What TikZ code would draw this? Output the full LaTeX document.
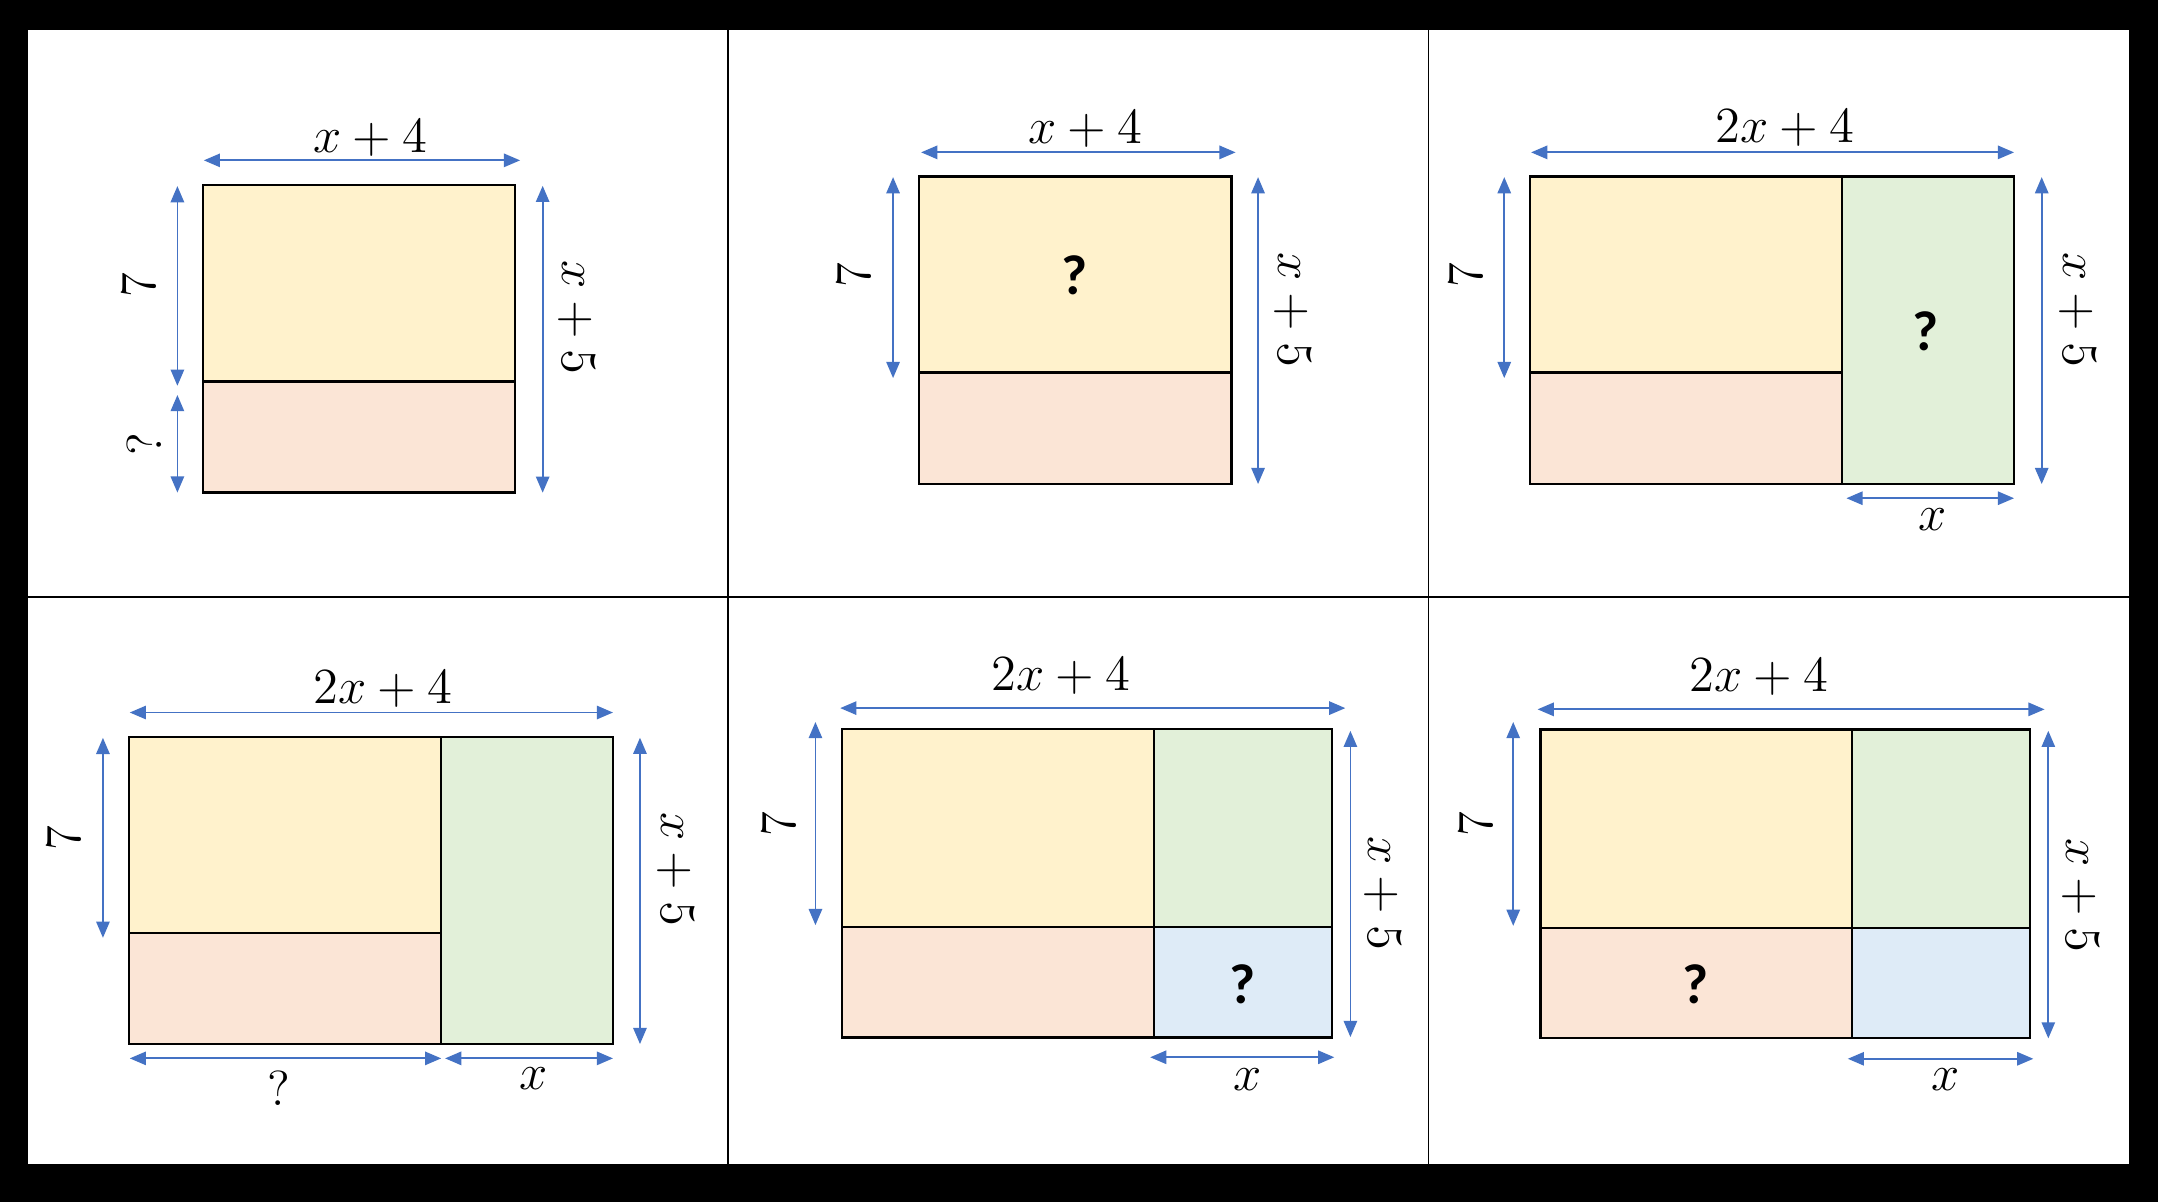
\documentclass[tikz,border=0pt]{standalone}
\usepackage{fontspec}
\newfontfamily\askfont{Carlito}
\usetikzlibrary{arrows.meta}

\definecolor{dimblue}{HTML}{4472C4}
\definecolor{yellowpart}{HTML}{FFF2CC}
\definecolor{pinkpart}{HTML}{FBE5D6}
\definecolor{greenpart}{HTML}{E2F0D9}
\definecolor{bluepart}{HTML}{DEEBF7}

\tikzset{
    dim/.style={dimblue, line width=0.5pt, {Triangle[length=4.6pt,width=3.8pt]}-{Triangle[length=4.6pt,width=3.8pt]}},
    edge/.style={draw=black, line width=0.65pt},
    lbl/.style={inner sep=0pt, font=\fontsize{14}{16}\selectfont},
    ask/.style={inner sep=0pt, font=\askfont\bfseries\fontsize{16}{18}\selectfont},
}

\begin{document}
\begin{tikzpicture}[x=0.0137628cm, y=-0.0137628cm]
            \fill[black] (0, 0) rectangle (1568, 873.4);
            \fill[white] (20.6, 21.7) rectangle (1547.1, 846);
            \draw[line width=0.5pt] (528.7, 21.7) -- (528.7, 846);
            \draw[line width=0.5pt] (1037.9, 21.7) -- (1037.9, 846);
            \draw[line width=0.5pt] (20.6, 433.8) -- (1547.1, 433.8);

            \fill[yellowpart] (147.4, 134.6) rectangle (374.1, 277.2);
            \fill[pinkpart] (147.4, 277.2) rectangle (374.1, 357.9);
            \draw[edge] (147.4, 134.6) rectangle (374.1, 357.9);
            \draw[edge] (147.4, 277.2) -- (374.1, 277.2);
            \draw[dim] (148.1, 116.5) -- (377.9, 116.5);
            \draw[dim] (128.9, 135.2) -- (128.9, 280.3);
            \draw[dim] (128.9, 287) -- (128.9, 357.9);
            \draw[dim] (394.3, 135) -- (394.3, 358);
            \node[lbl] (top1) at (269, 100.1) { $x+4$ };
            \node[lbl, rotate=90] (seven1) at (101.2, 207) { $7$ };
            \node[lbl, rotate=90] (ask1) at (104.6, 322.6) { ? };
            \node[lbl, rotate=-90] (side1) at (419, 230.8) { $x+5$ };

            \fill[yellowpart] (667.6, 128.2) rectangle (894.8, 270.6);
            \fill[pinkpart] (667.6, 270.6) rectangle (894.8, 351.5);
            \draw[edge] (667.6, 128.2) rectangle (894.8, 351.5);
            \draw[edge] (667.6, 270.6) -- (894.8, 270.6);
            \draw[dim] (669.3, 110.7) -- (897.8, 110.7);
            \draw[dim] (648.9, 128.7) -- (648.9, 274.7);
            \draw[dim] (914.1, 128.7) -- (914.1, 351.7);
            \node[lbl] (top2) at (788.4, 93.7) { $x+4$ };
            \node[lbl, rotate=90] (seven2) at (620.5, 200.2) { $7$ };
            \node[lbl, rotate=-90] (side2) at (939.1, 225.2) { $x+5$ };
            \node[ask] (ask2) at (780.4, 200.2) { ? };

            \fill[yellowpart] (1111.8, 128.2) rectangle (1338.5, 270.6);
            \fill[pinkpart] (1111.8, 270.6) rectangle (1338.5, 351.5);
            \fill[greenpart] (1338.5, 128.2) rectangle (1463.4, 351.5);
            \draw[edge] (1111.8, 128.2) rectangle (1463.4, 351.5);
            \draw[edge] (1111.8, 270.6) -- (1338.5, 270.6);
            \draw[edge] (1338.5, 128.2) -- (1338.5, 351.5);
            \draw[dim] (1112.5, 110.7) -- (1463.4, 110.7);
            \draw[dim] (1093, 128.7) -- (1093, 274.7);
            \draw[dim] (1483.5, 128.7) -- (1483.5, 351.7);
            \draw[dim] (1341.6, 362) -- (1463.4, 362);
            \node[lbl] (top3) at (1296.8, 93.2) { $2x+4$ };
            \node[lbl, rotate=90] (seven3) at (1065, 200.2) { $7$ };
            \node[lbl, rotate=-90] (side3) at (1509.5, 225.2) { $x+5$ };
            \node[lbl] (low3) at (1404.5, 377.3) { $x$ };
            \node[ask] (ask3) at (1399.4, 240.5) { ? };

            \fill[yellowpart] (93.6, 535.6) rectangle (320.3, 677.9);
            \fill[pinkpart] (93.6, 677.9) rectangle (320.3, 758.6);
            \fill[greenpart] (320.3, 535.6) rectangle (445.4, 758.6);
            \draw[edge] (93.6, 535.6) rectangle (445.4, 758.6);
            \draw[edge] (93.6, 677.9) -- (320.3, 677.9);
            \draw[edge] (320.3, 535.6) -- (320.3, 758.6);
            \draw[dim] (94.3, 517.7) -- (445.4, 517.7);
            \draw[dim] (74.8, 536.1) -- (74.8, 681.4);
            \draw[dim] (465, 536) -- (465, 758.6);
            \draw[dim] (94.3, 769) -- (320.6, 769);
            \draw[dim] (323.4, 769) -- (445.4, 769);
            \node[lbl] (top4) at (278.4, 500.6) { $2x+4$ };
            \node[lbl, rotate=90] (seven4) at (46.3, 608.7) { $7$ };
            \node[lbl, rotate=-90] (side4) at (491, 631.8) { $x+5$ };
            \node[lbl] (ask4) at (202.3, 790.3) { ? };
            \node[lbl] (low4) at (387.5, 784) { $x$ };

            \fill[yellowpart] (611.9, 529.5) rectangle (838.4, 673.6);
            \fill[pinkpart] (611.9, 673.6) rectangle (838.4, 753.8);
            \fill[greenpart] (838.4, 529.5) rectangle (967.8, 673.6);
            \fill[bluepart] (838.4, 673.6) rectangle (967.8, 753.8);
            \draw[edge] (611.9, 529.5) rectangle (967.8, 753.8);
            \draw[edge] (611.9, 673.6) -- (967.8, 673.6);
            \draw[edge] (838.4, 529.5) -- (838.4, 753.8);
            \draw[dim] (610.5, 514.5) -- (977.5, 514.5);
            \draw[dim] (592.5, 524.6) -- (592.5, 672.2);
            \draw[dim] (981.2, 531) -- (981.2, 753.5);
            \draw[dim] (835.7, 768.2) -- (969.5, 768.2);
            \node[lbl] (top5) at (771, 491.5) { $2x+4$ };
            \node[lbl, rotate=90] (seven5) at (566.5, 598.7) { $7$ };
            \node[lbl, rotate=-90] (side5) at (1004.5, 649.1) { $x+5$ };
            \node[lbl] (low5) at (906.8, 784.6) { $x$ };
            \node[ask] (ask5) at (902.8, 714.8) { ? };

            \fill[yellowpart] (1119.3, 530) rectangle (1345.6, 674.2);
            \fill[pinkpart] (1119.3, 674.2) rectangle (1345.6, 754.3);
            \fill[greenpart] (1345.6, 530) rectangle (1475, 674.2);
            \fill[bluepart] (1345.6, 674.2) rectangle (1475, 754.3);
            \draw[edge] (1119.3, 530) rectangle (1475, 754.3);
            \draw[edge] (1119.3, 674.2) -- (1475, 674.2);
            \draw[edge] (1345.6, 530) -- (1345.6, 754.3);
            \draw[dim] (1117.2, 515.4) -- (1485.6, 515.4);
            \draw[dim] (1099.5, 524.6) -- (1099.5, 672.7);
            \draw[dim] (1488.3, 531) -- (1488.3, 754.5);
            \draw[dim] (1342.6, 769.3) -- (1477.4, 769.3);
            \node[lbl] (top6) at (1278, 492) { $2x+4$ };
            \node[lbl, rotate=90] (seven6) at (1072.8, 598.7) { $7$ };
            \node[lbl, rotate=-90] (side6) at (1512.2, 650.6) { $x+5$ };
            \node[lbl] (low6) at (1413.7, 784.6) { $x$ };
            \node[ask] (ask6) at (1231.8, 714.8) { ? };

        \end{tikzpicture}
\end{document}
